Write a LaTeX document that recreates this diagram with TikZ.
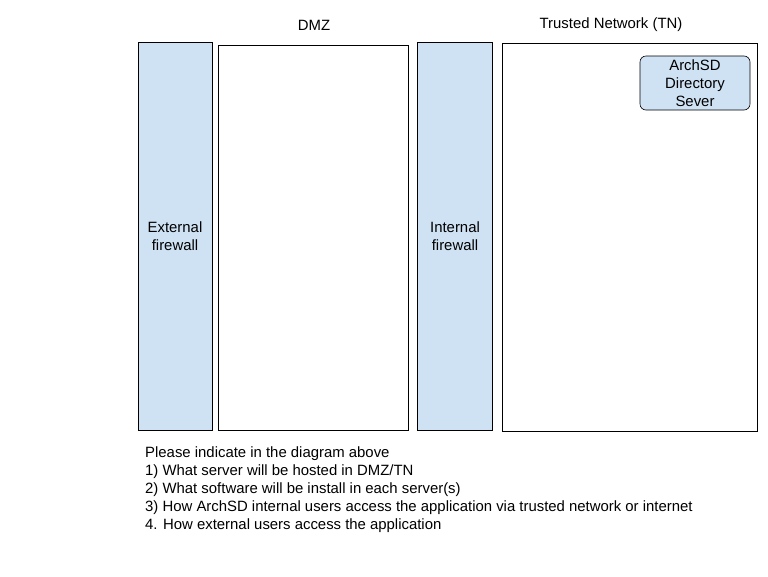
\documentclass[tikz,border=0pt]{standalone}
\usepackage{fontspec}
\setmainfont{Liberation Sans}
\begin{document}
\begin{tikzpicture}[x=1pt,y=-1pt,
  fw/.style={draw=black,fill=fwblue,line width=0.6pt},
  zone/.style={draw=black,fill=white,line width=0.6pt},
  lbl/.style={font=\fontsize{14.9}{18}\selectfont,align=center,inner sep=0pt}]
\definecolor{fwblue}{HTML}{CFE2F3}
\useasboundingbox (0,0) rectangle (768,576);
\draw[fw] (138,42) rectangle (212,430);
\node[lbl] (ef) at (175,236) {External\\firewall};
\draw[zone] (218,45) rectangle (408,430);
\node[lbl] (dmz) at (314,25) {DMZ};
\draw[fw] (417,42) rectangle (492,430);
\node[lbl] (if) at (455,236) {Internal\\firewall};
\draw[zone] (502,43) rectangle (757,431);
\node[lbl] (tn) at (611,25) {Trusted Network (TN)};
\draw[fw,rounded corners=6pt] (640,56) rectangle (750,110);
\node[lbl] (ad) at (695,83) {ArchSD\\Directory\\Sever};
\node[font=\fontsize{14.9}{18}\selectfont,align=left,anchor=north west,inner sep=0pt] (txt) at (145,446)
{Please indicate in the diagram above\\
1) What server will be hosted in DMZ/TN\\
2) What software will be install in each server(s)\\
3) How ArchSD internal users access the application via trusted network or internet\\
4. How external users access the application};
\end{tikzpicture}
\end{document}
